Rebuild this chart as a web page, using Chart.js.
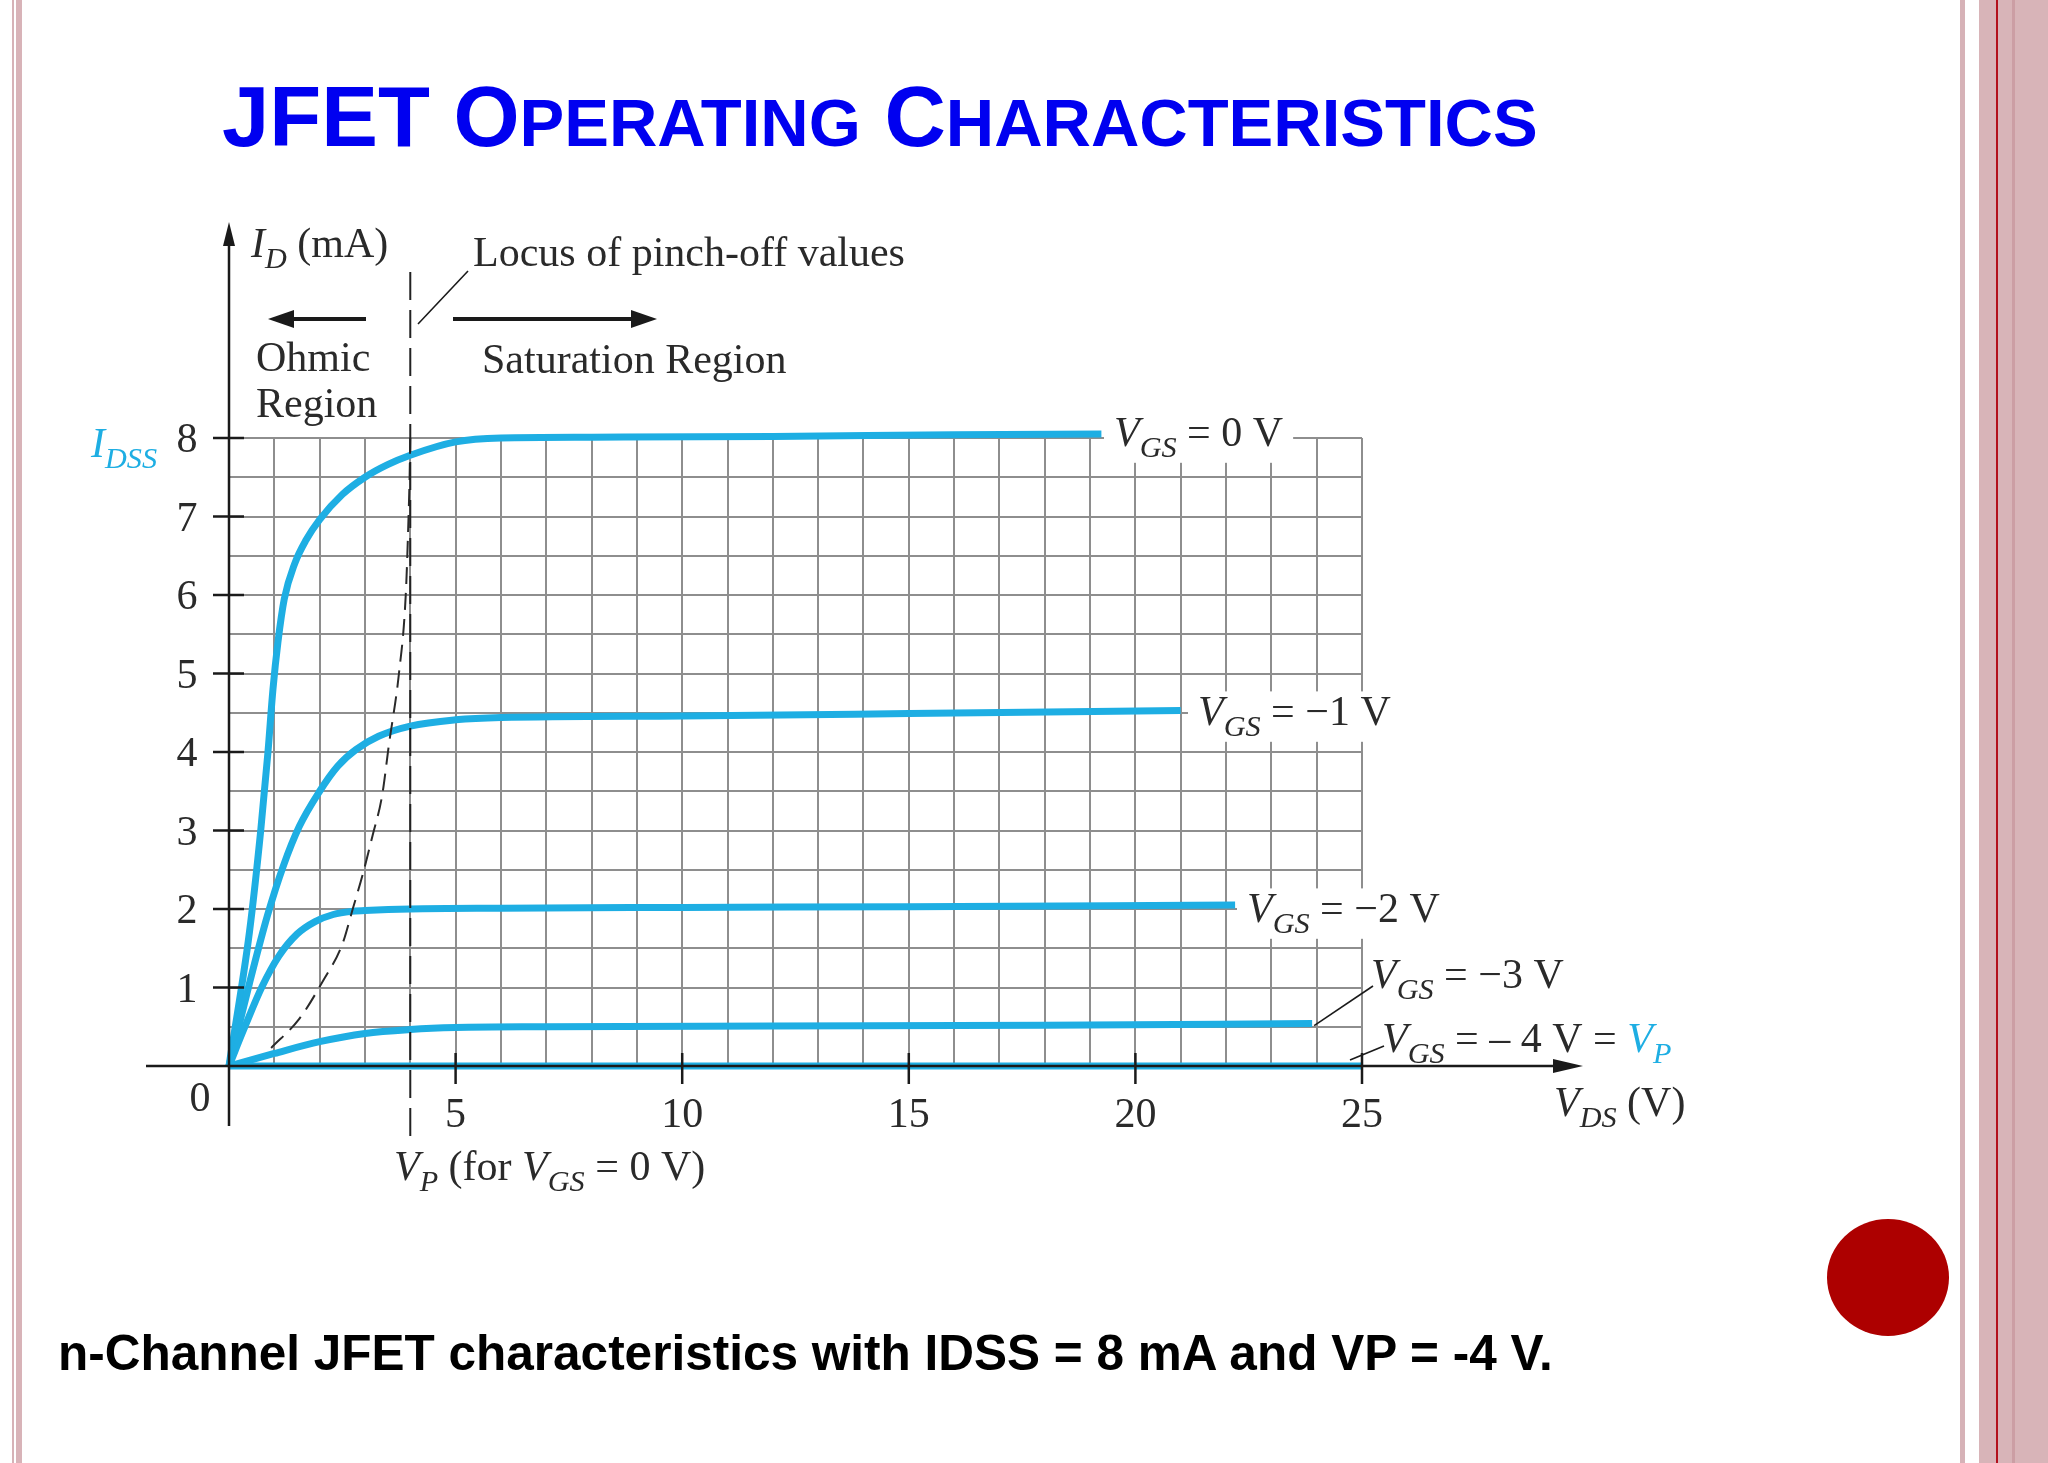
<!DOCTYPE html>
<html>
<head>
<meta charset="utf-8">
<script src="https://cdn.jsdelivr.net/npm/chart.js@4.4.1/dist/chart.umd.min.js"></script>
<style>
  html, body { margin: 0; padding: 0; background: #fff; }
  #page { position: relative; width: 2048px; height: 1463px; overflow: hidden; background: #fff; }
  #chart { position: absolute; left: 0; top: 0; }
  .bar { position: absolute; top: 0; height: 1463px; }
  #title {
    position: absolute; left: 222px; top: 74px; white-space: nowrap;
    font-family: "Liberation Sans", Arial, sans-serif; font-weight: bold;
    font-size: 85px; line-height: 1; color: #0000f0;
  }
  #title .sc { font-size: 67px; }
  #caption {
    position: absolute; left: 58px; top: 1328px; white-space: nowrap;
    font-family: "Liberation Sans", Arial, sans-serif; font-weight: bold;
    font-size: 49.5px; line-height: 1; color: #000;
  }
  #dot { position: absolute; left: 1827px; top: 1219px; width: 122px; height: 117px; border-radius: 50%; background: #ad0000; }
</style>
</head>
<body>
<div id="page">
  <canvas id="chart" width="2048" height="1463"></canvas>
  <div class="bar" style="left:12px;width:2px;background:#d6b2b7"></div>
  <div class="bar" style="left:16px;width:6px;background:#d8b3b8"></div>
  <div class="bar" style="left:1960px;width:5px;background:#d6b2b7"></div>
  <div class="bar" style="left:1979px;width:69px;background:#d8b4b8"></div>
  <div class="bar" style="left:1996px;width:2px;background:#b3101c"></div>
  <div class="bar" style="left:2012px;width:3px;background:#cc9ea4"></div>
  <div id="title">JFET O<span class="sc">PERATING</span> C<span class="sc">HARACTERISTICS</span></div>
  <div id="caption">n-Channel JFET characteristics with IDSS = 8 mA and VP = -4 V.</div>
  <div id="dot"></div>
</div>
<script>
// drain characteristics, one pair of arrays per gate voltage (VDS in V, ID in mA)
const vdsGs0 = [0, 0.45, 0.7, 0.86, 0.97, 1.08, 1.22, 1.45, 1.7, 2.0, 2.5, 3.0, 3.5, 4.0, 5.0, 6.0, 8.0, 12.0, 16.0, 19.25];
const idGs0 = [0, 1.7, 3.0, 4.0, 4.8, 5.4, 5.95, 6.4, 6.7, 6.96, 7.28, 7.5, 7.66, 7.78, 7.95, 8.0, 8.01, 8.02, 8.04, 8.05];

const vdsGs1 = [0, 0.45, 0.85, 1.2, 1.55, 2.0, 2.4, 2.8, 3.3, 4.0, 5.0, 6.0, 10, 15, 21];
const idGs1 = [0, 1.05, 1.92, 2.55, 3.05, 3.5, 3.82, 4.03, 4.2, 4.33, 4.41, 4.44, 4.46, 4.49, 4.53];

const vdsGs2 = [0, 0.35, 0.72, 1.1, 1.5, 1.9, 2.3, 2.7, 3.0, 4.0, 6.0, 10, 15, 22.2];
const idGs2 = [0, 0.5, 1.0, 1.4, 1.68, 1.84, 1.93, 1.97, 1.98, 2.0, 2.01, 2.02, 2.03, 2.05];

const vdsGs3 = [0, 1.0, 2.0, 3.0, 4.0, 5.0, 7.0, 12, 18, 23.9];
const idGs3 = [0, 0.16, 0.31, 0.415, 0.465, 0.49, 0.5, 0.51, 0.52, 0.54];

const vdsGs4 = [0, 25];
const idGs4 = [0, 0];

// locus of pinch-off values (dashed)
const locusVds = [0.93, 1.55, 2.07, 2.5, 2.73, 2.95, 3.17, 3.38, 3.53, 3.75, 3.9, 3.96, 3.985, 4.0];
const locusId = [0.23, 0.6, 1.08, 1.55, 2.0, 2.44, 2.94, 3.45, 4.1, 5.0, 6.0, 6.96, 7.5, 8.0];

const pinchOff = 4;
const yTicks = [1, 2, 3, 4, 5, 6, 7, 8];
const xTicks = [5, 10, 15, 20, 25];

const BLUE = '#1eaee3';
const INK = '#2a2a2a';
const SERIF = '"Liberation Serif", "Times New Roman", serif';

function toPts(xs, ys) {
    return xs.map((x, i) => ({ x: x, y: ys[i] }));
}

function curve(xs, ys) {
    return {
        data: toPts(xs, ys),
        showLine: true,
        borderColor: BLUE,
        borderWidth: 7,
        pointRadius: 0,
        cubicInterpolationMode: 'monotone',
        borderJoinStyle: 'round',
        clip: false
    };
}

// text made of runs: {t, it (italic), sub (subscript), color}
function rich(ctx, x, y, parts, size, opt) {
    opt = opt || {};
    const subSize = size * 0.72;
    let w = 0;
    const runs = parts.map(p => {
        const s = p.sub ? subSize : size;
        const font = (p.it ? 'italic ' : '') + s + 'px ' + SERIF;
        ctx.font = font;
        const pw = ctx.measureText(p.t).width;
        w += pw;
        return { t: p.t, color: p.color, font: font, w: pw, dy: p.sub ? size * 0.27 : 0 };
    });
    let x0 = opt.align === 'center' ? x - w / 2 : x;
    if (opt.bg) {
        ctx.fillStyle = '#fff';
        ctx.fillRect(x0 - opt.bg, y - size * 0.8, w + opt.bg * 2, size * 1.2);
    }
    ctx.textAlign = 'left';
    ctx.textBaseline = 'alphabetic';
    runs.forEach(r => {
        ctx.font = r.font;
        ctx.fillStyle = r.color || opt.color || INK;
        ctx.fillText(r.t, x0, y + r.dy);
        x0 += r.w;
    });
}

function seg(ctx, x1, y1, x2, y2) {
    ctx.beginPath();
    ctx.moveTo(x1, y1);
    ctx.lineTo(x2, y2);
    ctx.stroke();
}

function head(ctx, tipX, tipY, dir, len, half) {
    ctx.beginPath();
    if (dir === 'up') {
        ctx.moveTo(tipX, tipY);
        ctx.lineTo(tipX - half, tipY + len);
        ctx.lineTo(tipX + half, tipY + len);
    } else {
        const s = dir === 'right' ? -1 : 1;
        ctx.moveTo(tipX, tipY);
        ctx.lineTo(tipX + s * len, tipY - half);
        ctx.lineTo(tipX + s * len, tipY + half);
    }
    ctx.closePath();
    ctx.fill();
}

const overlay = {
    id: 'overlay',
    afterDatasetsDraw(chart) {
        const ctx = chart.ctx;
        const X = v => chart.scales.x.getPixelForValue(v);
        const Y = v => chart.scales.y.getPixelForValue(v);
        const x0 = X(0), y0 = Y(0);
        ctx.save();

        // pinch-off voltage line
        ctx.strokeStyle = '#222';
        ctx.lineWidth = 2;
        ctx.setLineDash([28, 10]);
        seg(ctx, X(pinchOff), 272, X(pinchOff), y0 + 76);
        ctx.setLineDash([]);

        // labels (curve labels sit on white patches over the grid)
        const F = 42;
        rich(ctx, 251, 257, [{ t: 'I', it: true }, { t: 'D', it: true, sub: true }, { t: ' (mA)' }], F);
        rich(ctx, 473, 266, [{ t: 'Locus of pinch-off values' }], F);
        rich(ctx, 256, 371, [{ t: 'Ohmic' }], F);
        rich(ctx, 256, 417, [{ t: 'Region' }], F);
        rich(ctx, 482, 373, [{ t: 'Saturation Region' }], F);
        rich(ctx, 91, 457, [{ t: 'I', it: true }, { t: 'DSS', it: true, sub: true }], F, { color: BLUE });

        const vgs = v => [{ t: 'V', it: true }, { t: 'GS', it: true, sub: true }, { t: ' = ' + v + ' V' }];
        rich(ctx, 1114, 446, vgs('0'), F, { bg: 10 });
        rich(ctx, 1198, 725, vgs('\u22121'), F, { bg: 10 });
        rich(ctx, 1247, 922, vgs('\u22122'), F, { bg: 10 });
        rich(ctx, 1371, 988, vgs('\u22123'), F, { bg: 4 });
        rich(ctx, 1382, 1052, vgs('\u2013 4').concat([{ t: ' = ' }, { t: 'V', it: true, color: BLUE }, { t: 'P', it: true, sub: true, color: BLUE }]), F, { bg: 4 });
        rich(ctx, 1554, 1116, [{ t: 'V', it: true }, { t: 'DS', it: true, sub: true }, { t: ' (V)' }], F);
        rich(ctx, 394, 1180, [{ t: 'V', it: true }, { t: 'P', it: true, sub: true }, { t: ' (for ' }, { t: 'V', it: true }, { t: 'GS', it: true, sub: true }, { t: ' = 0 V)' }], F);

        ctx.strokeStyle = '#1a1a1a';
        ctx.fillStyle = '#1a1a1a';

        // region arrows
        ctx.lineWidth = 4;
        seg(ctx, 366, 319, 285, 319);
        head(ctx, 268, 319, 'left', 26, 9);
        seg(ctx, 453, 319, 640, 319);
        head(ctx, 657, 319, 'right', 26, 9);

        // leader lines
        ctx.lineWidth = 1.6;
        seg(ctx, 468, 271, 418, 324);
        seg(ctx, X(23.9) + 2, Y(0.54) + 2, 1373, 986);
        seg(ctx, 1350, 1060, 1384, 1046);

        // axes
        ctx.lineWidth = 2.5;
        seg(ctx, x0 - 83, y0, 1560, y0);
        seg(ctx, x0, y0 + 60, x0, 240);
        head(ctx, 1583, y0, 'right', 30, 7);
        head(ctx, x0, 222, 'up', 24, 6);

        yTicks.forEach(v => seg(ctx, x0 - 16, Y(v), x0 + 15, Y(v)));
        xTicks.forEach(v => seg(ctx, X(v), y0 - 13, X(v), y0 + 18));

        // tick labels
        yTicks.forEach(v => rich(ctx, 187, Y(v) + 14, [{ t: String(v) }], F, { align: 'center' }));
        rich(ctx, 200, y0 + 45, [{ t: '0' }], F, { align: 'center' });
        xTicks.forEach(v => rich(ctx, X(v), y0 + 61, [{ t: String(v) }], F, { align: 'center' }));

        ctx.restore();
    }
};

const locus = {
    data: toPts(locusVds, locusId),
    showLine: true,
    borderColor: '#2a2a2a',
    borderWidth: 2,
    borderDash: [17, 9],
    pointRadius: 0,
    cubicInterpolationMode: 'monotone',
    clip: false
};

new Chart(document.getElementById('chart'), {
    type: 'scatter',
    data: {
        datasets: [
            locus,
            curve(vdsGs4, idGs4),
            curve(vdsGs3, idGs3),
            curve(vdsGs2, idGs2),
            curve(vdsGs1, idGs1),
            curve(vdsGs0, idGs0)
        ]
    },
    options: {
        responsive: false,
        devicePixelRatio: 1,
        animation: false,
        layout: { padding: { left: 229, right: 686, top: 438, bottom: 397 } },
        plugins: { legend: { display: false }, tooltip: { enabled: false } },
        scales: {
            x: {
                type: 'linear',
                min: 0,
                max: 25,
                afterFit: s => { s.height = 0; },
                ticks: { display: false, stepSize: 1, maxTicksLimit: 100 },
                grid: { color: '#8e8e8e', lineWidth: 2, drawTicks: false },
                border: { display: false }
            },
            y: {
                type: 'linear',
                min: 0,
                max: 8,
                afterFit: s => { s.width = 0; },
                ticks: { display: false, stepSize: 0.5, maxTicksLimit: 100 },
                grid: { color: '#8e8e8e', lineWidth: 2, drawTicks: false },
                border: { display: false }
            }
        }
    },
    plugins: [overlay]
});
</script>
</body>
</html>
